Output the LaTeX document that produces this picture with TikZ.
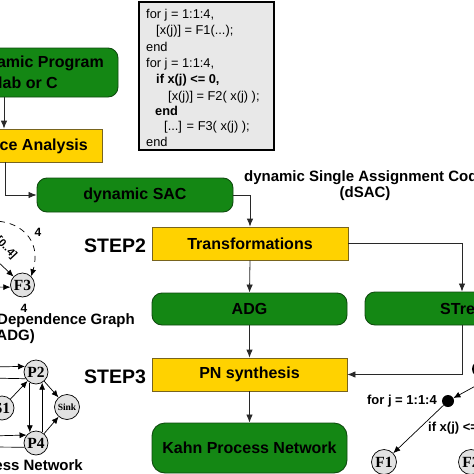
\documentclass[tikz,border=0pt]{standalone}
\usepackage{fontspec}
\setmainfont{Liberation Sans}
\newfontfamily\circfont{Liberation Serif}
\usetikzlibrary{arrows.meta}
\definecolor{gfill}{RGB}{20,135,20}
\definecolor{gline}{RGB}{15,75,15}
\definecolor{yfill}{RGB}{255,210,0}
\definecolor{yline}{RGB}{120,100,30}
\definecolor{cfill}{RGB}{232,232,232}
\definecolor{nfill}{RGB}{226,226,226}
\definecolor{lcol}{RGB}{40,40,40}
\begin{document}
\begin{tikzpicture}[x=1pt,y=-1pt,
  greenbox/.style={draw=gline, fill=gfill, line width=0.9pt, rounded corners=10pt, inner sep=0pt, font=\bfseries\fontsize{16}{16}\selectfont},
  yellowbox/.style={draw=yline, fill=yfill, line width=0.8pt, inner sep=0pt, font=\bfseries\fontsize{16}{16}\selectfont},
  flow/.style={draw=lcol, line width=0.8pt, -{Latex[length=8pt,width=6.5pt]}},
  gflow/.style={draw=black, line width=0.7pt, -{Latex[length=7pt,width=6pt]}},
  circ/.style={circle, draw=black, line width=0.7pt, fill=nfill, minimum size=24pt, inner sep=0pt, font=\circfont\bfseries\fontsize{15.5}{15.5}\selectfont},
  steptext/.style={font=\bfseries\fontsize{19.5}{19.5}\selectfont, inner sep=0pt, anchor=west},
  lbl/.style={font=\bfseries\fontsize{15}{16}\selectfont, inner sep=0pt},
  boxlbl/.style={font=\bfseries\fontsize{16}{16}\selectfont, inner sep=0pt, anchor=east},
  codeline/.style={font=\fontsize{12.8}{12.8}\selectfont, anchor=west, inner sep=0pt},
  codebold/.style={codeline, font=\bfseries\fontsize{12.8}{12.8}\selectfont},
  small/.style={font=\bfseries\fontsize{12}{12}\selectfont, inner sep=0pt},
  treelbl/.style={font=\bfseries\fontsize{13}{13}\selectfont, inner sep=0pt},
]
\useasboundingbox (0,0) rectangle (474,474);
\clip (0,0) rectangle (474,474);

% ---- main flow boxes
\node[greenbox, minimum width=220pt, minimum height=49pt] (prog) at (8,72.5) {};
\node[boxlbl] (progA) at (104,63) {Dynamic Program};
\node[boxlbl] (progB) at (58,83) {Matlab or C};
\node[yellowbox, minimum width=220pt, minimum height=33pt] (dep) at (-8,145.5) {};
\node[boxlbl] (depT) at (88,146) {Dependence Analysis};

\node[greenbox, minimum width=196pt, minimum height=34pt] (sac) at (135,195) {dynamic SAC};
\node[yellowbox, minimum width=196pt, minimum height=33pt] (trans) at (250,243.5) {Transformations};
\node[greenbox, minimum width=195pt, minimum height=32pt] (adg) at (249.5,309) {ADG};
\node[greenbox, minimum width=194pt, minimum height=33pt] (stree) at (462,308.5) {STree};
\node[yellowbox, minimum width=195pt, minimum height=33pt] (pn) at (249.5,374.5) {PN synthesis};
\node[greenbox, minimum width=195pt, minimum height=50pt, rounded corners=13pt] (kpn) at (249.5,448) {Kahn Process Network};

\node[steptext] (s2) at (84,246) {STEP2};
\node[steptext] (s3) at (84,377) {STEP3};

\node[lbl, align=center] (dsac) at (365,186) {dynamic Single Assignment Code\\(dSAC)};

% ---- code box
\node[draw=black, line width=1.6pt, fill=cfill, minimum width=135pt, minimum height=148pt, inner sep=0pt] (code) at (206.5,76) {};
\node[codeline] (l1) at (146,15) {for j = 1:1:4,};
\node[codeline] (l2) at (156,31) {[x(j)] = F1(...);};
\node[codeline] (l3) at (146,47) {end};
\node[codeline] (l4) at (146,64) {for j = 1:1:4,};
\node[codebold] (l5) at (156,80) {if x(j) <= 0,};
\node[codeline] (l6) at (168,97) {[x(j)] = F2( x(j) );};
\node[codebold] (l7) at (155,111) {end};
\node[codeline] (l8) at (164,127) {[...] = F3( x(j) );};
\node[codeline] (l9) at (146,142) {end};

% ---- main connectors
\coordinate (xa) at (4,0);
\draw[flow] (xa |- prog.south) -- (xa |- dep.north);
\coordinate (xb) at (5,0);
\draw[flow] (xb |- dep.south) |- (sac.west);
\draw[flow] (sac.east) -| (trans.north);
\draw[flow] (trans.south) -- (adg.north);
\draw[flow] (trans.east) -| (stree.north);
\draw[flow] (stree.south) |- (pn.east);
\draw[flow] (adg.south) -- (pn.north);
\draw[flow] (pn.south) -- (kpn.north);

% ---- dependence graph fragment
\node[circ] (f3) at (22.5,285) {F3};
\coordinate (ain) at (-22,243);
\draw[gflow] (ain) -- (f3);
\node[font=\bfseries\fontsize{11}{11}\selectfont, inner sep=0pt, rotate=-47] (rng) at (6,248) {[0..4]};
\coordinate (dstart) at (-12,221);
\draw[gflow, dash pattern=on 6pt off 5pt] (dstart) .. controls (20,219) and (42,240) .. (f3.45);
\coordinate (hin) at (-20,287);
\draw[gflow] (hin) -- (f3.190);
\node[small] (n4a) at (38,232) {4};
\node[small] (n4b) at (24,308) {4};
\node[lbl, anchor=east] (adgT1) at (135,321) {Approximated Dependence Graph};
\node[lbl, anchor=east] (adgT2) at (35,337) {(ADG)};

% ---- process network fragment
\node[circ] (p2) at (36,372) {P2};
\node[circ] (p4) at (36,443) {P4};
\node[circ, minimum size=25pt, font=\circfont\bfseries\fontsize{9.5}{9.5}\selectfont] (sink) at (67,407) {Sink};
\node[circ] (s1) at (2,408) {S1};
\coordinate (p2in) at (-12,367);
\coordinate (p2out) at (-12,378);
\coordinate (p4in) at (-12,436);
\coordinate (p4out) at (-12,447);
\draw[gflow] (p2in) -- (p2.153);
\draw[gflow] (p2.213) -- (p2out);
\draw[gflow] (p4in) -- (p4.140);
\draw[gflow] (p4.200) -- (p4out);
\draw[gflow] (s1) -- (p2);
\draw[gflow] (p2.240) -- (p4.120);
\draw[gflow] (p4.60) -- (p2.300);
\draw[gflow] (p2) -- (sink);
\draw[gflow] (p4) -- (sink);
\node[lbl, anchor=east] (pnT) at (83,465) {Process Network};

% ---- schedule tree fragment
\node[circle, fill=black, minimum size=16pt, inner sep=0pt] (root) at (480,369) {};
\node[circle, fill=black, minimum size=12pt, inner sep=0pt] (loop) at (448,401) {};
\coordinate (tin) at (492,377);
\draw[gflow] (tin) -- (loop);
\node[circ, minimum size=25pt] (f1) at (384,462) {F1};
\node[circ, minimum size=25pt] (f2) at (471,462) {F2};
\draw[gflow] (loop) -- (f1);
\node[treelbl, anchor=east] (forT) at (437,401) {for j = 1:1:4};
\node[treelbl, anchor=west] (ifT) at (428,428) {if x(j) <= 0};
\end{tikzpicture}
\end{document}
